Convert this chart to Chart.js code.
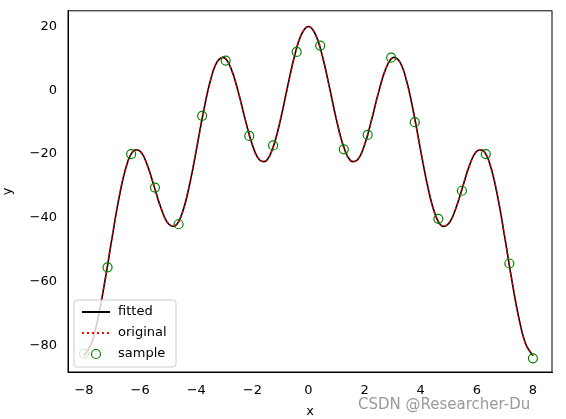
<!DOCTYPE html>
<html><head><meta charset="utf-8">
<script src="https://cdn.jsdelivr.net/npm/chart.js@4/dist/chart.umd.min.js"></script>
<style>html,body{margin:0;padding:0;background:#fff}#w{position:relative;width:566px;height:419px}</style>
</head><body><div id="w"><canvas id="c" width="566" height="419"></canvas></div>
<script>
const curveX=[-8,-7.75,-7.5,-7.25,-7,-6.75,-6.5,-6.25,-6,-5.75,-5.5,-5.25,-5,-4.75,-4.5,-4.25,-4,-3.75,-3.5,-3.25,-3,-2.75,-2.5,-2.25,-2,-1.75,-1.5,-1.25,-1,-0.75,-0.5,-0.25,0,0.25,0.5,0.75,1,1.25,1.5,1.75,2,2.25,2.5,2.75,3,3.25,3.5,3.75,4,4.25,4.5,4.75,5,5.25,5.5,5.75,6,6.25,6.5,6.75,7,7.25,7.5,7.75,8];
const halfY=[20,17.49,10.56,0.85,-9.32,-17.59,-22.05,-21.79,-17.07,-9.28,-0.58,6.61,10.20,8.97,2.83,-7.13,-18.91,-30.10,-38.47,-42.50,-41.78,-37.07,-30.16,-23.32,-19.12,-19.10,-24.10,-33.66,-46.27,-59.58,-71.44,-79.71,-83.15];
const curveY=halfY.slice(1).reverse().concat(halfY);
const sampleX=[-8,-7.16,-6.32,-5.47,-4.63,-3.79,-2.95,-2.11,-1.26,-0.42,0.42,1.26,2.11,2.95,3.79,4.63,5.47,6.32,7.16,8];
const sampleY=[-82.5,-55.5,-20,-30.5,-42,-8,9.3,-14.3,-17.3,12,14,-18.5,-14,10.2,-10,-40.3,-31.5,-20,-54.3,-84];
const xTicks=[-8,-6,-4,-2,0,2,4,6,8];
const yTicks=[20,0,-20,-40,-60,-80];
const pts=(xs,ys)=>xs.map((x,i)=>({x,y:ys[i]}));
const font={family:'DejaVu Sans',size:13};
const fmt=v=>String(v).replace('-','\u2212');
const legendPlugin={id:'lg',afterDraw(ch){const c=ch.ctx,a=ch.chartArea;const x=a.left+6,y=a.bottom-72,w=102,h=67;
c.save();c.fillStyle='rgba(255,255,255,0.8)';c.strokeStyle='#ccc';c.lineWidth=1;
c.beginPath();c.roundRect(x,y,w,h,3);c.fill();c.stroke();
c.font='13px DejaVu Sans';c.fillStyle='#000';c.textBaseline='middle';
['fitted','original','sample'].forEach((r,i)=>{const yy=y+12+i*21;
if(i==0){c.strokeStyle='#000';c.lineWidth=2;c.beginPath();c.moveTo(x+8,yy);c.lineTo(x+36,yy);c.stroke();}
if(i==1){c.strokeStyle='red';c.lineWidth=2;c.setLineDash([2,3]);c.beginPath();c.moveTo(x+8,yy);c.lineTo(x+36,yy);c.stroke();c.setLineDash([]);}
if(i==2){c.strokeStyle='green';c.lineWidth=1.2;c.beginPath();c.arc(x+22,yy,4.5,0,7);c.stroke();}
c.fillText(r,x+44,yy);});
c.restore();}};
new Chart(document.getElementById('c'),{type:'scatter',
data:{datasets:[
{label:'original',type:'line',order:1,data:pts(curveX,curveY),borderColor:'red',borderWidth:1.6,borderDash:[2,3],pointRadius:0,tension:0.4,fill:false},
{label:'fitted',type:'line',order:2,data:pts(curveX,curveY),borderColor:'#000',borderWidth:1.6,pointRadius:0,tension:0.4,fill:false},
{label:'sample',order:0,data:pts(sampleX,sampleY),borderColor:'green',borderWidth:1.2,backgroundColor:'rgba(0,0,0,0)',pointRadius:4.5}]},
options:{responsive:false,animation:false,events:[],
layout:{padding:{top:0,right:14,left:0,bottom:0}},
plugins:{legend:{display:false},tooltip:{enabled:false}},
scales:{
x:{type:'linear',min:-8.57,max:8.68,afterBuildTicks:s=>{s.ticks=xTicks.map(v=>({value:v}))},afterFit:s=>{s.height=47},
grid:{display:false,drawTicks:true},border:{color:'#000'},ticks:{color:'#000',font,padding:3,callback:fmt},
title:{display:true,text:'x',color:'#000',font,padding:0}},
y:{type:'linear',min:-88.3,max:24.9,afterBuildTicks:s=>{s.ticks=yTicks.map(v=>({value:v}))},afterFit:s=>{s.width=68},
grid:{display:false},border:{color:'#000'},ticks:{color:'#000',font,padding:3,callback:fmt},
title:{display:true,text:'y',color:'#000',font,padding:0}}}},
plugins:[legendPlugin,{id:'frame',afterDraw(ch){const c=ch.ctx,a=ch.chartArea;c.save();c.strokeStyle='#000';c.lineWidth=1;c.strokeRect(a.left,a.top,a.right-a.left,a.bottom-a.top);
c.font='15px DejaVu Sans';c.fillStyle='#999';c.fillText('CSDN @Researcher-Du',358,409);c.restore();}}]});
</script></body></html>
